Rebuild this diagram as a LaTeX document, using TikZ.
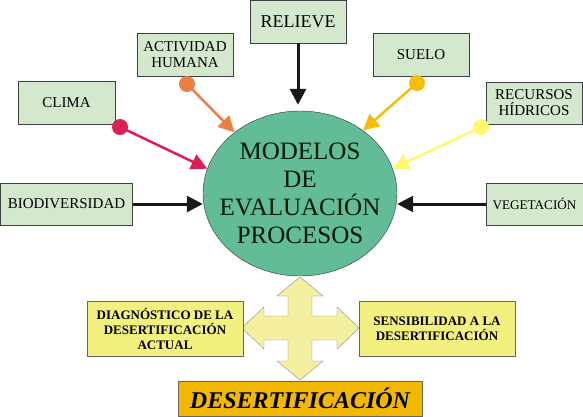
\documentclass[tikz,border=0pt]{standalone}
\usepackage{fontspec}
\setmainfont{Liberation Serif}
\usepackage{xcolor}
\usetikzlibrary{positioning, arrows.meta, shapes.geometric}

\definecolor{boxgreen}{HTML}{D3E8CC}
\definecolor{modgreen}{HTML}{62BC98}
\definecolor{climared}{HTML}{DC1F55}
\definecolor{humorange}{HTML}{EC7F43}
\definecolor{suelogold}{HTML}{F2BE0A}
\definecolor{aguayellow}{HTML}{FFF870}
\definecolor{diagyellow}{HTML}{F2F07E}
\definecolor{crossyellow}{HTML}{F5F0A0}
\definecolor{desertgold}{HTML}{F2B800}

\begin{document}
\begin{tikzpicture}[
    x=1pt, y=-1pt,
    factor/.style={draw=black!75, fill=boxgreen, align=center, inner sep=2pt,
                   minimum width=96pt, minimum height=43pt,
                   font=\fontsize{15}{15}\selectfont},
    result/.style={draw=black!60, fill=diagyellow, align=center, inner sep=2pt,
                   minimum width=156pt, minimum height=55pt,
                   font=\fontsize{13}{15}\bfseries},
    dot/.style={circle, fill=#1, inner sep=0pt, minimum size=16pt},
    karr/.style={-{Triangle[length=16pt, width=16pt]}, line width=3pt, black!90},
    carr/.style={-{Triangle[length=16pt, width=16pt]}, line width=2.5pt, #1}
  ]
  \useasboundingbox (0,0) rectangle (583,416);

  % centre
  \node[ellipse, draw=black!80, fill=modgreen, inner sep=0pt,
        minimum width=194pt, minimum height=165pt] (modelo) at (300,193.5) {};
  \node[align=center, inner sep=0pt, text=black!90!green,
        font=\fontsize{25}{28}\selectfont]
        (modelotxt) at (modelo) {MODELOS\\DE\\EVALUACIÓN\\PROCESOS};

  % factores
  \node[factor, font=\fontsize{18}{18}\selectfont] (relieve) at (298,21.5) {RELIEVE};
  \node[factor, font=\fontsize{15}{16}\selectfont] (humana) at (185,54.5) {ACTIVIDAD\\HUMANA};
  \node[factor, minimum width=97pt] (clima) at (66.5,102.5) {CLIMA};
  \node[factor] (suelo) at (421,54.5) {SUELO};
  \node[factor, minimum height=42pt, font=\fontsize{15}{16}\selectfont] (agua) at (534,103) {RECURSOS\\HÍDRICOS};
  \node[factor, minimum width=132pt, minimum height=42pt] (biodiv) at (66.5,204) {BIODIVERSIDAD};
  \node[factor, minimum width=97pt, minimum height=42pt, font=\fontsize{13.2}{14}\selectfont] (veget) at (534.5,204) {VEGETACIÓN};

  % puntos de salida
  \node[dot=humorange]  (humanadot) at (187,84)  {};
  \node[dot=climared]   (climadot)  at (120,127) {};
  \node[dot=suelogold]  (suelodot)  at (417,83)  {};
  \node[dot=aguayellow] (aguadot)   at (481,127) {};

  \draw[karr, shorten >=6pt] (relieve) -- (relieve |- modelo.north);
  \draw[karr] (biodiv.east) -- (biodiv.east -| modelo.west);
  \draw[karr] (veget.west) -- (veget.west -| modelo.east);
  \draw[carr=humorange]  (humanadot.center) -- (modelo.137);
  \draw[carr=climared]   (climadot.center)  -- (modelo.165);
  \draw[carr=suelogold]  (suelodot.center)  -- (modelo.45);
  \draw[carr=aguayellow] (aguadot.center)   -- (modelo.15);

  % flecha de cuatro puntas
  \draw[black!45, fill=crossyellow]
    (300,277) -- (323,296) -- (312,296) -- (312,316) -- (337,316) -- (337,307)
    -- (359,328) -- (337,349) -- (337,340) -- (312,340) -- (312,361) -- (323,361)
    -- (300,380) -- (277,361) -- (288,361) -- (288,340) -- (264,340) -- (264,349)
    -- (242,328) -- (264,307) -- (264,316) -- (288,316) -- (288,296) -- (277,296)
    -- cycle;

  % resultados
  \node[result] (diag) at (165,328.5) {DIAGNÓSTICO DE LA\\DESERTIFICACIÓN\\ACTUAL};
  \node[result] (sensib) at (437,328.5) {SENSIBILIDAD A LA\\DESERTIFICACIÓN};
  \node[draw=black!60, fill=desertgold, minimum width=244pt, minimum height=35pt,
        inner sep=0pt, font=\fontsize{24}{24}\bfseries\itshape] (desert) at (300,398.5)
        {DESERTIFICACIÓN};
\end{tikzpicture}
\end{document}
